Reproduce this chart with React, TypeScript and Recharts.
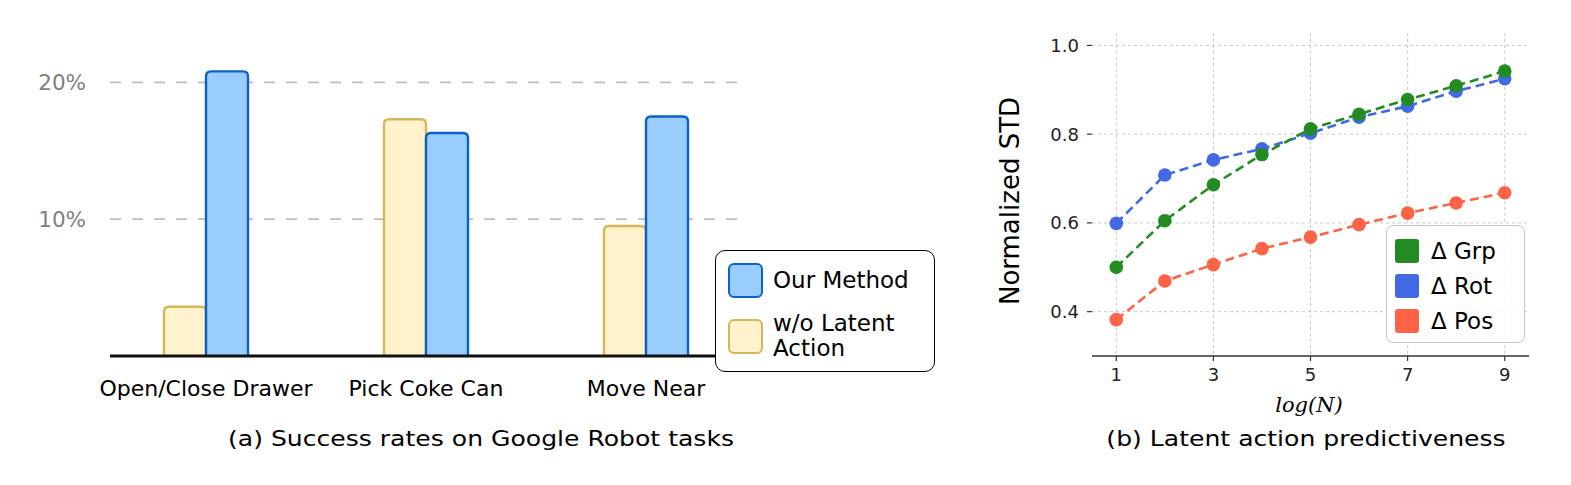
import React from 'react';
import {
  BarChart, Bar, LineChart, Line, XAxis, YAxis, CartesianGrid, Legend, ReferenceLine,
} from 'recharts';

// (a) success rates, in percent
const tasks = ['Open/Close Drawer', 'Pick Coke Can', 'Move Near'];
const ourMethod = [20.8, 16.3, 17.5];
const withoutLatent = [3.6, 17.3, 9.5];
const rateTicks = [10, 20];

// (b) normalized STD vs log(N)
const logN = [1, 2, 3, 4, 5, 6, 7, 8, 9];
const grp = [0.5, 0.605, 0.686, 0.754, 0.812, 0.845, 0.878, 0.909, 0.942];
const rot = [0.599, 0.708, 0.742, 0.767, 0.802, 0.838, 0.863, 0.897, 0.925];
const pos = [0.382, 0.469, 0.506, 0.542, 0.568, 0.596, 0.622, 0.645, 0.668];
const logTicks = [1, 3, 5, 7, 9];
const stdTicks = [0.4, 0.6, 0.8, 1.0];

const barData = tasks.map((task, i) => ({ task, ours: ourMethod[i], wo: withoutLatent[i] }));
const lineData = logN.map((n, i) => ({ n, grp: grp[i], rot: rot[i], pos: pos[i] }));

const FONT = '"DejaVu Sans", Verdana, sans-serif';

const BLUE_FILL = '#99CCFF';
const BLUE_EDGE = '#0B62C4';
const BEIGE_FILL = '#FFF2CC';
const BEIGE_EDGE = '#D6B656';

const lineSeries = [
  { key: 'grp', label: '\u0394 Grp', color: '#228B22' },
  { key: 'rot', label: '\u0394 Rot', color: '#4169E1' },
  { key: 'pos', label: '\u0394 Pos', color: '#FF6347' },
];

// rounded top corners, no bottom edge so the baseline stays black
function RoundedBar(props: any) {
  const { x, y, width, height, fill, stroke } = props;
  if (!height || height <= 0) return null;
  const r = 5;
  const b = y + height;
  const outline = `M${x},${b} L${x},${y + r} Q${x},${y} ${x + r},${y} L${x + width - r},${y} Q${x + width},${y} ${x + width},${y + r} L${x + width},${b}`;
  return (
    <g>
      <path d={outline + ' Z'} fill={fill} stroke="none" />
      <path d={outline} fill="none" stroke={stroke} strokeWidth={2.4} />
    </g>
  );
}

// grid lines only at the ticks, never on the plot border
const atEdge = (v: number, a: number, b: number) => Math.abs(v - a) < 1 || Math.abs(v - b) < 1;

function BarLegend() {
  const items = [
    { label: ['Our Method'], fill: BLUE_FILL, edge: BLUE_EDGE, top: 12 },
    { label: ['w/o Latent', 'Action'], fill: BEIGE_FILL, edge: BEIGE_EDGE, top: 60 },
  ];
  return (
    <div
      style={{
        position: 'relative', width: 220, height: 122, boxSizing: 'border-box', border: '1.3px solid #000',
        borderRadius: 10, background: '#fff', fontFamily: FONT, fontSize: 23, color: '#000',
      }}
    >
      {items.map((it, i) => (
        <div key={i} style={{ position: 'absolute', left: 12, top: it.top, display: 'flex', alignItems: 'center' }}>
          <div
            style={{
              width: 35, height: 35, boxSizing: 'border-box', border: `2.5px solid ${it.edge}`,
              background: it.fill, borderRadius: 6, marginRight: 10, flexShrink: 0,
            }}
          />
          <div style={{ lineHeight: '25px' }}>
            {it.label.map((t) => <div key={t}>{t}</div>)}
          </div>
        </div>
      ))}
    </div>
  );
}

function LineLegend() {
  return (
    <div
      style={{
        width: 139, height: 118, boxSizing: 'border-box', border: '1px solid #c4c4c4', borderRadius: 7,
        background: 'rgba(255,255,255,0.85)', padding: '7px 0 0 8px', fontFamily: FONT, fontSize: 23, color: '#000',
      }}
    >
      {lineSeries.map((s) => (
        <div key={s.key} style={{ display: 'flex', alignItems: 'center', height: 35 }}>
          <div style={{ width: 24, height: 24, background: s.color, borderRadius: 3, marginRight: 12 }} />
          <span>{s.label}</span>
        </div>
      ))}
    </div>
  );
}

const captionStyle: React.CSSProperties = {
  position: 'absolute', top: 426, width: 600, textAlign: 'center', fontSize: 22, color: '#000',
  transform: 'scaleX(1.14)', transformOrigin: 'center',
};

export default function App() {
  return (
    <div style={{ position: 'absolute', left: 0, top: 0, width: 1571, height: 485, background: '#fff', fontFamily: FONT }}>
      {/* (a) bar chart */}
      <div style={{ position: 'absolute', left: 0, top: 0 }}>
        <BarChart
          width={780}
          height={485}
          data={barData}
          margin={{ top: 55, right: 24, bottom: 99, left: 6 }}
          barGap={0}
          barSize={42}
        >
          <CartesianGrid
            vertical={false}
            horizontal={(p: any) =>
              atEdge(p.y1, p.y, p.y + p.height) ? null : (
                <line
                  key={p.key}
                  x1={p.x1 + 14}
                  x2={p.x2 - 18}
                  y1={p.y1}
                  y2={p.y2}
                  stroke="#bdbdbd"
                  strokeWidth={1.8}
                  strokeDasharray="11 11"
                />
              )
            }
          />
          <XAxis
            dataKey="task"
            axisLine={false}
            tickLine={false}
            tickSize={0}
            tickMargin={24}
            height={30}
            tick={{ fill: '#000', fontSize: 22, fontFamily: FONT }}
          />
          <YAxis
            domain={[0, 22]}
            ticks={rateTicks}
            width={90}
            axisLine={false}
            tickLine={false}
            tickSize={0}
            tickMargin={10}
            tickFormatter={(v: number) => `${v}%`}
            tick={{ fill: '#7f7f7f', fontSize: 21.5, fontFamily: FONT }}
          />
          <Bar dataKey="wo" name="w/o Latent Action" fill={BEIGE_FILL} stroke={BEIGE_EDGE} shape={RoundedBar} isAnimationActive={false} />
          <Bar dataKey="ours" name="Our Method" fill={BLUE_FILL} stroke={BLUE_EDGE} shape={RoundedBar} isAnimationActive={false} />
          <ReferenceLine
            y={0}
            shape={(p: any) => (
              <line x1={p.x1 + 14} x2={p.x2 - 18} y1={p.y1} y2={p.y2} stroke="#111" strokeWidth={2.8} />
            )}
          />
          <Legend
            layout="vertical"
            align="center"
            verticalAlign="middle"
            content={() => <BarLegend />}
            wrapperStyle={{ left: 715, top: 250, width: 220, height: 122 }}
          />
        </BarChart>
      </div>
      <div style={{ ...captionStyle, left: 181 }}>(a) Success rates on Google Robot tasks</div>

      {/* (b) line chart */}
      <div style={{ position: 'absolute', left: 990, top: 0 }}>
        <LineChart
          width={560}
          height={485}
          data={lineData}
          margin={{ top: 33, right: 21, bottom: 99, left: 32 }}
        >
          <CartesianGrid
            horizontal={(p: any) =>
              atEdge(p.y1, p.y, p.y + p.height) ? null : (
                <line key={p.key} x1={p.x1} x2={p.x2} y1={p.y1} y2={p.y2} stroke="#c8c8c8" strokeWidth={1} strokeDasharray="3 3" />
              )
            }
            vertical={(p: any) =>
              atEdge(p.x1, p.x, p.x + p.width) ? null : (
                <line key={p.key} x1={p.x1} x2={p.x2} y1={p.y1} y2={p.y2} stroke="#c8c8c8" strokeWidth={1} strokeDasharray="3 3" />
              )
            }
          />
          <XAxis
            dataKey="n"
            type="number"
            domain={[0.5, 9.5]}
            ticks={logTicks}
            height={30}
            axisLine={{ stroke: '#333', strokeWidth: 1.5 }}
            tickLine={{ stroke: '#333', strokeWidth: 1.2 }}
            tickSize={5}
            tickMargin={7}
            tick={{ fill: '#222', fontSize: 18, fontFamily: FONT }}
          />
          <YAxis
            type="number"
            domain={[0.3, 1.028]}
            ticks={stdTicks}
            width={70}
            axisLine={false}
            tickLine={{ stroke: '#333', strokeWidth: 1.2 }}
            tickSize={5}
            tickMargin={8}
            tickFormatter={(v: number) => v.toFixed(1)}
            tick={{ fill: '#222', fontSize: 18, fontFamily: FONT }}
          />
          {[...lineSeries].reverse().map((s) => (
            <Line
              key={s.key}
              type="linear"
              dataKey={s.key}
              name={s.label}
              stroke={s.color}
              strokeWidth={2.6}
              strokeDasharray="9 5"
              dot={{ r: 6.8, fill: s.color, stroke: s.color, strokeWidth: 0 }}
              isAnimationActive={false}
            />
          ))}
          <Legend
            layout="vertical"
            align="center"
            verticalAlign="middle"
            content={() => <LineLegend />}
            wrapperStyle={{ left: 396, top: 225, width: 139, height: 118 }}
          />
        </LineChart>
      </div>
      <div style={{ position: 'absolute', left: 1009.6, top: 201, width: 0, height: 0 }}>
        <div
          style={{
            position: 'absolute', left: 0, top: 0, transform: 'translate(-50%, -50%) rotate(-90deg)',
            whiteSpace: 'nowrap', fontSize: 26, color: '#000',
          }}
        >
          Normalized STD
        </div>
      </div>
      <div
        style={{
          position: 'absolute', left: 1209, width: 200, top: 393, textAlign: 'center',
          fontFamily: '"DejaVu Serif", serif', fontStyle: 'italic', fontSize: 21, color: '#000',
        }}
      >
        log(N)
      </div>
      <div style={{ ...captionStyle, left: 1006 }}>(b) Latent action predictiveness</div>
    </div>
  );
}
